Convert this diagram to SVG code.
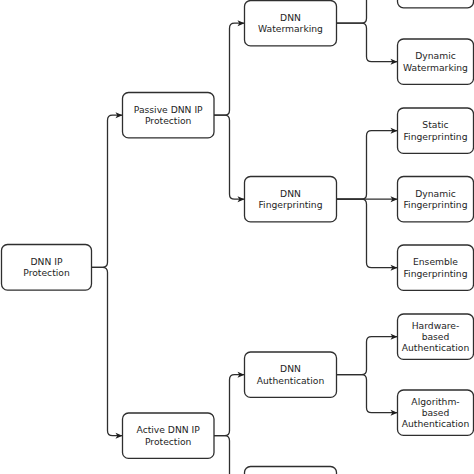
<svg xmlns="http://www.w3.org/2000/svg" width="474" height="474" viewBox="0 0 474 474">
<style>
.box{fill:#ffffff;stroke:#2e2e2e;stroke-width:1.3}
.lbl{font-family:"DejaVu Sans",Verdana,sans-serif;font-size:9.2px;fill:#1e1e1e;text-anchor:middle}
.edge{fill:none;stroke:#2e2e2e;stroke-width:1.3}
</style>
<defs>
<marker id="arr" markerUnits="userSpaceOnUse" markerWidth="8" markerHeight="7" refX="7" refY="3" orient="auto" overflow="visible">
<path d="M0,0 L7,3 L0,6 L1.8,3 z" fill="#1e1e1e"/>
</marker>
</defs>
<rect width="474" height="474" fill="#ffffff"/>
<g id="connectors">
<path class="edge" marker-end="url(#arr)" d="M91.5,267.3 H102.5 Q107.5,267.3 107.5,262.3 V120.2 Q107.5,115.2 112.5,115.2 H122.5"/>
<path class="edge" marker-end="url(#arr)" d="M91.5,267.3 H102.5 Q107.5,267.3 107.5,272.3 V430.7 Q107.5,435.7 112.5,435.7 H122.5"/>
<path class="edge" marker-end="url(#arr)" d="M214,115.2 H224.5 Q229.5,115.2 229.5,110.2 V28.2 Q229.5,23.2 234.5,23.2 H244.5"/>
<path class="edge" marker-end="url(#arr)" d="M214,115.2 H224.5 Q229.5,115.2 229.5,120.2 V194.2 Q229.5,199.2 234.5,199.2 H244.5"/>
<path class="edge" marker-end="url(#arr)" d="M214,435.7 H224.5 Q229.5,435.7 229.5,430.7 V379.7 Q229.5,374.7 234.5,374.7 H244.5"/>
<path class="edge" marker-end="url(#arr)" d="M214,435.7 H224.5 Q229.5,435.7 229.5,440.7 V484.2 Q229.5,489.2 234.5,489.2 H244.5"/>
<path class="edge" marker-end="url(#arr)" d="M336.5,23.2 H361.5 Q366.5,23.2 366.5,18.2 V-9.9 Q366.5,-14.9 371.5,-14.9 H397.5"/>
<path class="edge" marker-end="url(#arr)" d="M336.5,23.2 H361.5 Q366.5,23.2 366.5,28.2 V56.7 Q366.5,61.7 371.5,61.7 H397.5"/>
<path class="edge" marker-end="url(#arr)" d="M336.5,199.2 H361.5 Q366.5,199.2 366.5,194.2 V135.7 Q366.5,130.7 371.5,130.7 H397.5"/>
<path class="edge" marker-end="url(#arr)" d="M336.5,199.2 H397.5"/>
<path class="edge" marker-end="url(#arr)" d="M336.5,199.2 H361.5 Q366.5,199.2 366.5,204.2 V262.7 Q366.5,267.7 371.5,267.7 H397.5"/>
<path class="edge" marker-end="url(#arr)" d="M336.5,374.7 H361.5 Q366.5,374.7 366.5,369.7 V341.7 Q366.5,336.7 371.5,336.7 H397.5"/>
<path class="edge" marker-end="url(#arr)" d="M336.5,374.7 H361.5 Q366.5,374.7 366.5,379.7 V407.7 Q366.5,412.7 371.5,412.7 H397.5"/>
</g>
<g id="dnn-ip-protection">
<rect class="box" x="1.5" y="244.5" width="90" height="45.6" rx="6"/>
<text class="lbl" x="46.5" y="265">DNN IP</text>
<text class="lbl" x="46.5" y="276.3">Protection</text>
</g>
<g id="passive">
<rect class="box" x="122.5" y="92.5" width="91.5" height="45.4" rx="6"/>
<text class="lbl" x="168.2" y="112.9">Passive DNN IP</text>
<text class="lbl" x="168.2" y="124.2">Protection</text>
</g>
<g id="active">
<rect class="box" x="122.5" y="413" width="91.5" height="45.4" rx="6"/>
<text class="lbl" x="168.2" y="433.4">Active DNN IP</text>
<text class="lbl" x="168.2" y="444.7">Protection</text>
</g>
<g id="dnn-watermarking">
<rect class="box" x="244.5" y="0.5" width="92" height="45.4" rx="6"/>
<text class="lbl" x="290.5" y="20.9">DNN</text>
<text class="lbl" x="290.5" y="32.2">Watermarking</text>
</g>
<g id="dnn-fingerprinting">
<rect class="box" x="244.5" y="176.5" width="92" height="45.4" rx="6"/>
<text class="lbl" x="290.5" y="196.9">DNN</text>
<text class="lbl" x="290.5" y="208.2">Fingerprinting</text>
</g>
<g id="dnn-authentication">
<rect class="box" x="244.5" y="352" width="92" height="45.4" rx="6"/>
<text class="lbl" x="290.5" y="372.4">DNN</text>
<text class="lbl" x="290.5" y="383.7">Authentication</text>
</g>
<g id="bottom-node">
<rect class="box" x="244.5" y="466.5" width="92" height="45.4" rx="6"/>
</g>
<g id="top-node">
<rect class="box" x="397.5" y="-37.6" width="76" height="45.4" rx="6"/>
</g>
<g id="dynamic-watermarking">
<rect class="box" x="397.5" y="39" width="76" height="45.4" rx="6"/>
<text class="lbl" x="435.5" y="59.4">Dynamic</text>
<text class="lbl" x="435.5" y="70.7">Watermarking</text>
</g>
<g id="static-fingerprinting">
<rect class="box" x="397.5" y="108" width="76" height="45.4" rx="6"/>
<text class="lbl" x="435.5" y="128.4">Static</text>
<text class="lbl" x="435.5" y="139.7">Fingerprinting</text>
</g>
<g id="dynamic-fingerprinting">
<rect class="box" x="397.5" y="176.5" width="76" height="45.4" rx="6"/>
<text class="lbl" x="435.5" y="196.9">Dynamic</text>
<text class="lbl" x="435.5" y="208.2">Fingerprinting</text>
</g>
<g id="ensemble-fingerprinting">
<rect class="box" x="397.5" y="245" width="76" height="45.4" rx="6"/>
<text class="lbl" x="435.5" y="265.4">Ensemble</text>
<text class="lbl" x="435.5" y="276.7">Fingerprinting</text>
</g>
<g id="hardware-authentication">
<rect class="box" x="397.5" y="314" width="76" height="45.4" rx="6"/>
<text class="lbl" x="435.5" y="329.1">Hardware-</text>
<text class="lbl" x="435.5" y="340.1">based</text>
<text class="lbl" x="435.5" y="351.1">Authentication</text>
</g>
<g id="algorithm-authentication">
<rect class="box" x="397.5" y="390" width="76" height="45.4" rx="6"/>
<text class="lbl" x="435.5" y="405.1">Algorithm-</text>
<text class="lbl" x="435.5" y="416.1">based</text>
<text class="lbl" x="435.5" y="427.1">Authentication</text>
</g>
</svg>
